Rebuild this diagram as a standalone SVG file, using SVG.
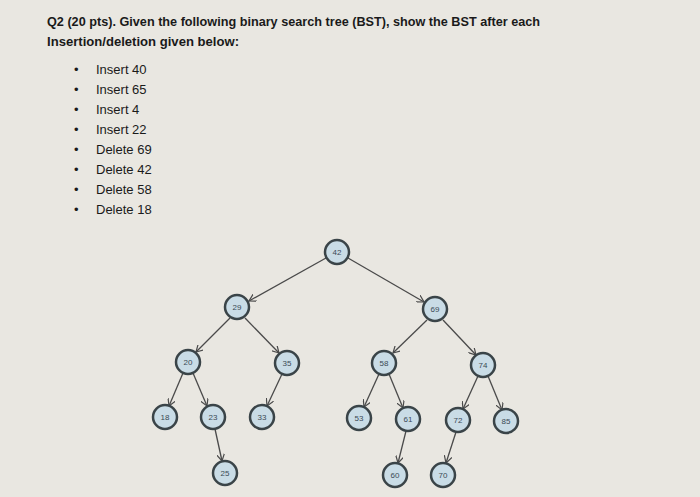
<svg xmlns="http://www.w3.org/2000/svg" width="700" height="497" viewBox="0 0 700 497">
<style>
.t{font-family:"Liberation Sans",Arial,sans-serif;font-size:13px;fill:#1a1a1a}
.b{font-weight:bold}
.n circle{fill:#c9dce6;stroke:#3a4448;stroke-width:2.5}
.n text{font-family:"Liberation Sans",Arial,sans-serif;font-size:8px;fill:#3a4a55;text-anchor:middle}
#edges line{stroke:#4a4a4a;stroke-width:1.3;marker-end:url(#a)}
</style>
<defs><marker id="a" markerWidth="8" markerHeight="8" refX="7" refY="4" orient="auto" markerUnits="userSpaceOnUse"><path d="M0,0 L7,4 L0,8" fill="none" stroke="#4a4a4a" stroke-width="1.2"/></marker></defs>
<rect width="700" height="497" fill="#e9e7e1"/>
<text class="t b" x="47" y="26" textLength="493" lengthAdjust="spacingAndGlyphs">Q2 (20 pts). Given the following binary search tree (BST), show the BST after each</text>
<text class="t b" x="47" y="46" textLength="192" lengthAdjust="spacingAndGlyphs">Insertion/deletion given below:</text>
<g class="t">
<text x="74" y="74">•</text><text x="96" y="74">Insert 40</text>
<text x="74" y="94">•</text><text x="96" y="94">Insert 65</text>
<text x="74" y="114">•</text><text x="96" y="114">Insert 4</text>
<text x="74" y="134">•</text><text x="96" y="134">Insert 22</text>
<text x="74" y="154">•</text><text x="96" y="154">Delete 69</text>
<text x="74" y="174">•</text><text x="96" y="174">Delete 42</text>
<text x="74" y="194">•</text><text x="96" y="194">Delete 58</text>
<text x="74" y="214">•</text><text x="96" y="214">Delete 18</text>
</g>
<g id="edges">
<line x1="326" y1="258" x2="249" y2="301"/>
<line x1="348" y1="258" x2="424" y2="302"/>
<line x1="230" y1="318" x2="196" y2="352"/>
<line x1="245" y1="318" x2="279" y2="353"/>
<line x1="427" y1="320" x2="393" y2="353"/>
<line x1="443" y1="320" x2="476" y2="355"/>
<line x1="183" y1="373" x2="169" y2="406"/>
<line x1="193" y1="373" x2="207" y2="406"/>
<line x1="282" y1="374" x2="267" y2="406"/>
<line x1="379" y1="374" x2="364" y2="407"/>
<line x1="389" y1="374" x2="403" y2="408"/>
<line x1="478" y1="376" x2="463" y2="409"/>
<line x1="488" y1="376" x2="502" y2="410"/>
<line x1="215" y1="429" x2="222" y2="461"/>
<line x1="406" y1="431" x2="398" y2="463"/>
<line x1="456" y1="432" x2="446" y2="463"/>
</g>
<g id="n42" class="n"><circle cx="337" cy="252" r="12"/><text x="337" y="255">42</text></g>
<g id="n29" class="n"><circle cx="237" cy="307" r="12"/><text x="237" y="310">29</text></g>
<g id="n69" class="n"><circle cx="435" cy="309" r="12"/><text x="435" y="312">69</text></g>
<g id="n20" class="n"><circle cx="188" cy="362" r="12"/><text x="188" y="365">20</text></g>
<g id="n35" class="n"><circle cx="287" cy="363" r="12"/><text x="287" y="366">35</text></g>
<g id="n58" class="n"><circle cx="384" cy="363" r="12"/><text x="384" y="366">58</text></g>
<g id="n74" class="n"><circle cx="483" cy="365" r="12"/><text x="483" y="368">74</text></g>
<g id="n18" class="n"><circle cx="165" cy="417" r="12"/><text x="165" y="420">18</text></g>
<g id="n23" class="n"><circle cx="213" cy="417" r="12"/><text x="213" y="420">23</text></g>
<g id="n33" class="n"><circle cx="262" cy="417" r="12"/><text x="262" y="420">33</text></g>
<g id="n53" class="n"><circle cx="359" cy="418" r="12"/><text x="359" y="421">53</text></g>
<g id="n61" class="n"><circle cx="408" cy="419" r="12"/><text x="408" y="422">61</text></g>
<g id="n72" class="n"><circle cx="458" cy="420" r="12"/><text x="458" y="423">72</text></g>
<g id="n85" class="n"><circle cx="506" cy="421" r="12"/><text x="506" y="424">85</text></g>
<g id="n25" class="n"><circle cx="225" cy="473" r="12"/><text x="225" y="476">25</text></g>
<g id="n60" class="n"><circle cx="395" cy="475" r="12"/><text x="395" y="478">60</text></g>
<g id="n70" class="n"><circle cx="443" cy="475" r="12"/><text x="443" y="478">70</text></g>
</svg>
